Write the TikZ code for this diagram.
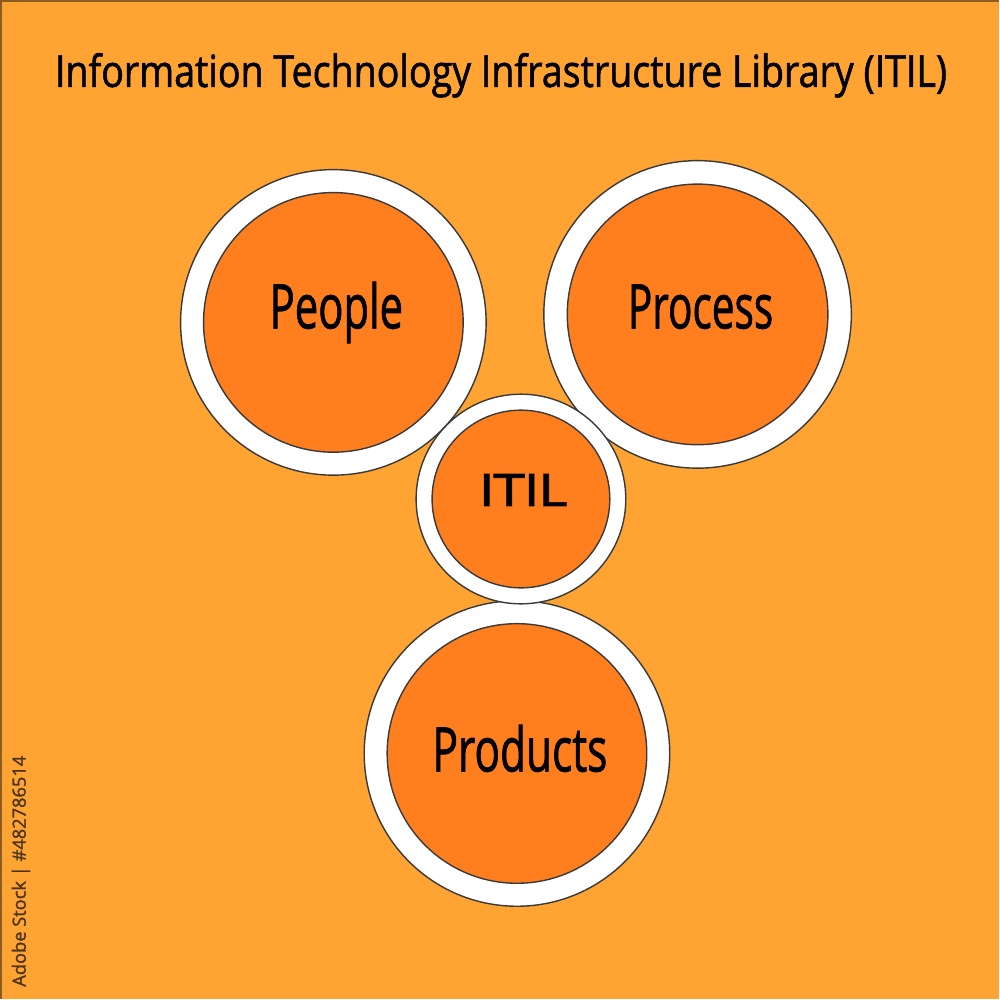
\documentclass[tikz,border=0pt]{standalone}
\usepackage{fontspec}
\setmainfont{Open Sans}
\newfontfamily\gruesa[FakeBold=1.4]{Open Sans}
\newfontfamily\itilfont[FakeBold=1.6]{DejaVu Sans}
\definecolor{fondo}{HTML}{FFA333}
\definecolor{nucleo}{HTML}{FF7F1F}
\definecolor{borde}{HTML}{3A3A3A}
\definecolor{marca}{HTML}{4A3418}
\definecolor{marco}{HTML}{8A5C24}
\begin{document}
\begin{tikzpicture}[x=0.01cm,y=-0.01cm,
	anillo/.style={circle,draw=borde,line width=0.4pt,fill=white,inner sep=0pt,minimum size=#1},
	centro/.style={circle,draw=borde,line width=0.4pt,fill=nucleo,inner sep=0pt,minimum size=#1},
	palabra/.style={anchor=base,inner sep=0pt,font=\gruesa\fontsize{17.5}{20}\selectfont}]
		%Fondo
		\fill[fondo] (0,0) rectangle (1000,1000);
		\draw[marco,line width=0.6pt] (0,1000) -- (0,0) -- (1000,0);
		\useasboundingbox (0,0) rectangle (1000,1000);
		%Titulo
		\node[anchor=base,inner sep=0pt,font=\gruesa\fontsize{12.6}{14}\selectfont] (titulo) at (501,86)
		{\scalebox{0.85}[1]{Information Technology Infrastructure Library (ITIL)}};
		%Circulos
		\node[anillo=3.06cm] (people) at (333,322) {};
		\node[centro=2.6cm] (peoplein) at (people.center) {};
		\node[palabra] (peopletxt) at (336,328) {\scalebox{0.68}[1]{People}};
		\node[anillo=3.08cm] (process) at (698,314) {};
		\node[centro=2.61cm] (processin) at (process.center) {};
		\node[palabra] (processtxt) at (701,328) {\scalebox{0.66}[1]{Process}};
		\node[anillo=3.06cm] (products) at (517,754) {};
		\node[centro=2.6cm] (productsin) at (products.center) {};
		\node[palabra] (productstxt) at (520,772) {\scalebox{0.69}[1]{Products}};
		\node[anillo=2.1cm] (itil) at (521,499) {};
		\node[centro=1.78cm] (itilin) at (itil.center) {};
		\node[anchor=base,inner sep=0pt,font=\itilfont\fontsize{12.5}{14}\selectfont] (itiltxt) at (523,506)
		{\scalebox{1.13}[1]{ITIL}};
		%Marca
		\node[rotate=90,inner sep=0pt,text=marca,font=\gruesa\fontsize{5.2}{6}\selectfont] (marca) at (20,872)
		{Adobe Stock | \#482786514};
\end{tikzpicture}
\end{document}
